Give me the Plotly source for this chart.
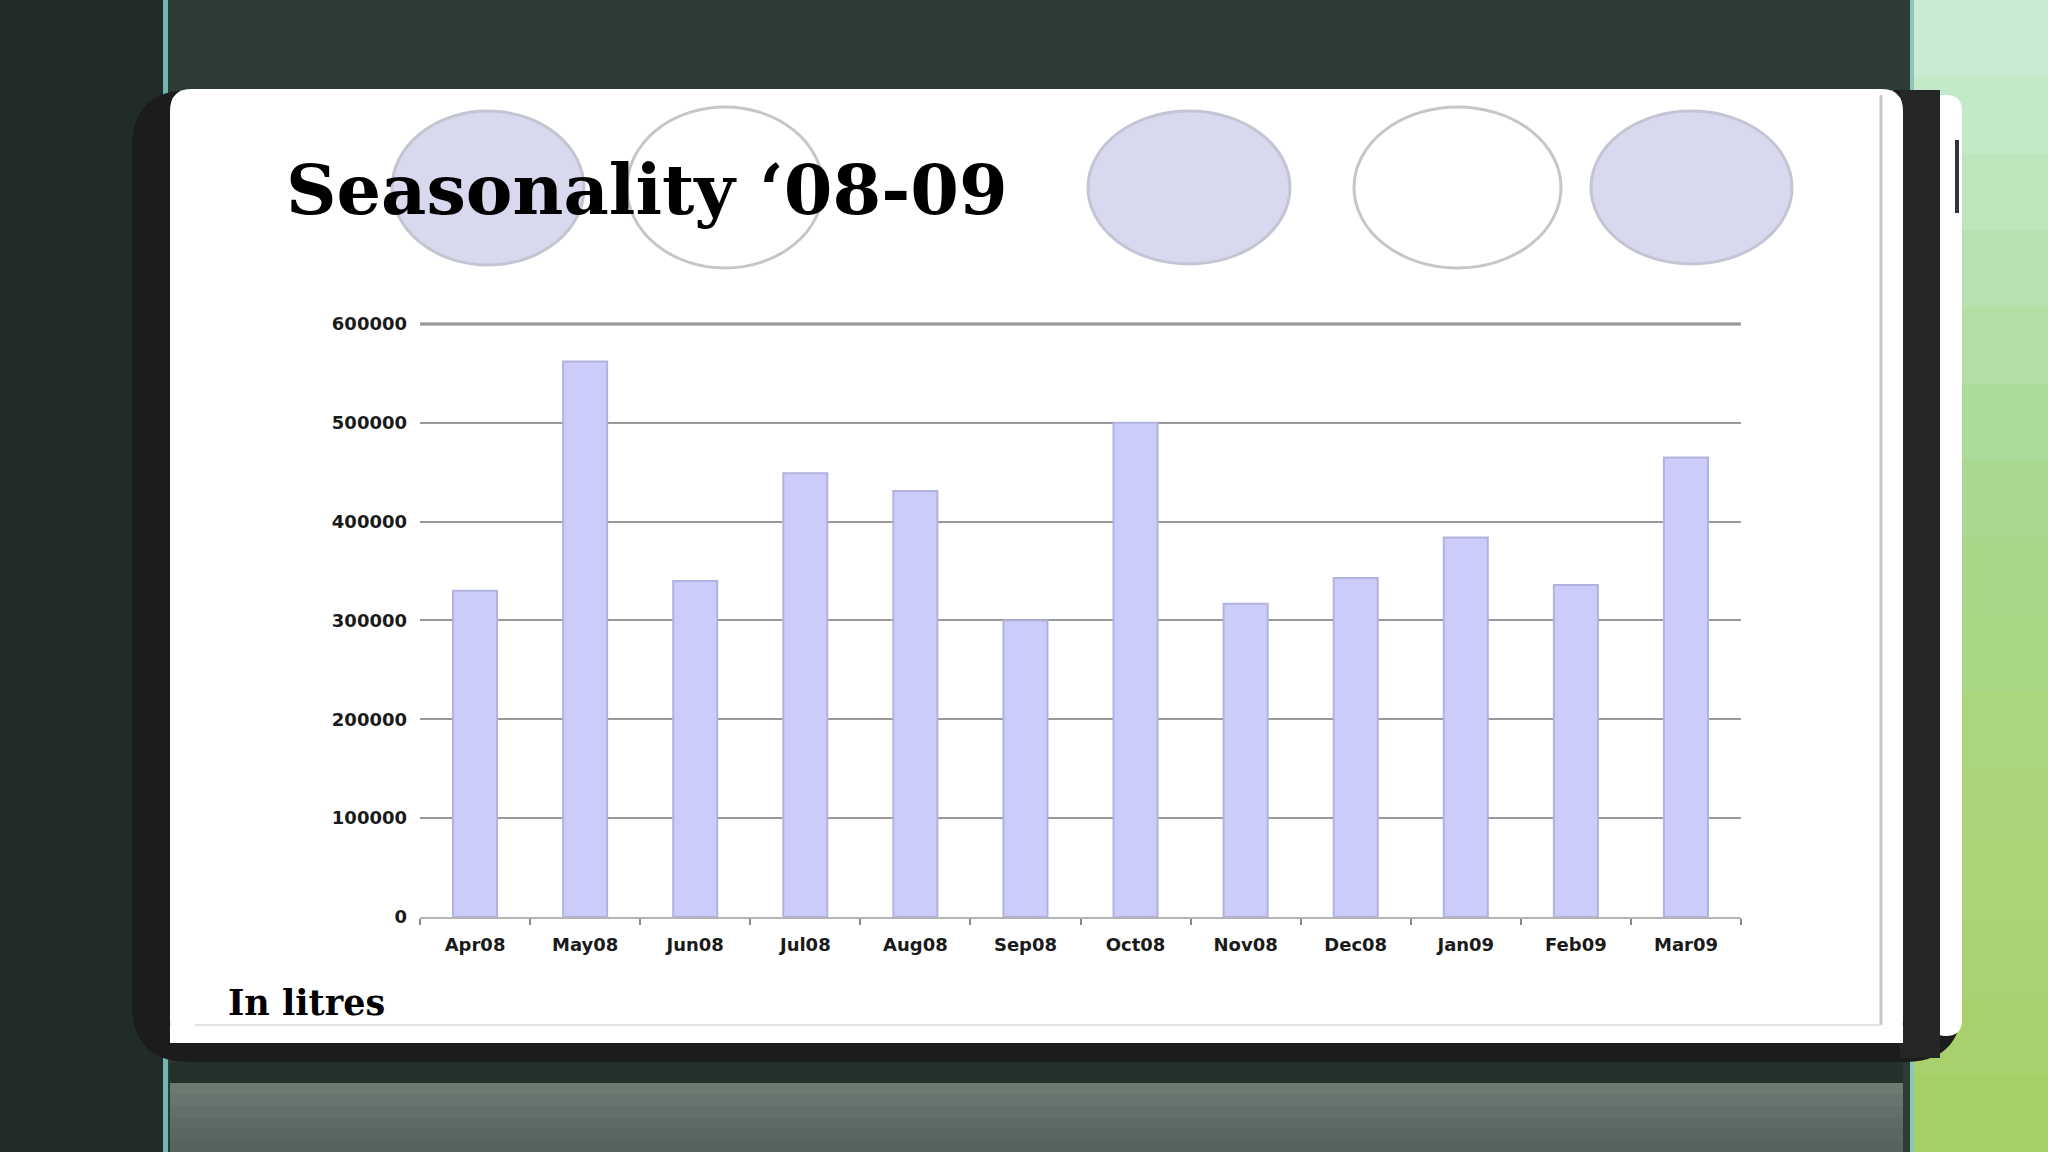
import plotly.graph_objects as go

# ---------------- data ----------------
months = ["Apr08", "May08", "Jun08", "Jul08", "Aug08", "Sep08",
          "Oct08", "Nov08", "Dec08", "Jan09", "Feb09", "Mar09"]
litres = [330000, 562000, 340000, 449000, 431000, 300000,
          500000, 317000, 343000, 384000, 336000, 465000]
y_ticks = [0, 100000, 200000, 300000, 400000, 500000, 600000]
y_tick_labels = ["0", "100000", "200000", "300000", "400000", "500000", "600000"]
title_text = "Seasonality \u201808-09"
unit_text = "In litres"

W, H = 2048, 1152


def px(x):
    return x / W


def py(y):
    return 1 - y / H


def pt(x, y):
    return f"{px(x):.5f},{py(y):.5f}"


def rrect(x0, y0, x1, y1, r):
    return ("M " + pt(x0 + r, y0) + " L " + pt(x1 - r, y0) +
            " Q " + pt(x1, y0) + " " + pt(x1, y0 + r) +
            " L " + pt(x1, y1 - r) +
            " Q " + pt(x1, y1) + " " + pt(x1 - r, y1) +
            " L " + pt(x0 + r, y1) +
            " Q " + pt(x0, y1) + " " + pt(x0, y1 - r) +
            " L " + pt(x0, y0 + r) +
            " Q " + pt(x0, y0) + " " + pt(x0 + r, y0) + " Z")


shapes = []


def rect(x0, y0, x1, y1, color, layer="below"):
    shapes.append(dict(type="rect", xref="paper", yref="paper",
                       x0=px(x0), x1=px(x1), y0=py(y1), y1=py(y0),
                       fillcolor=color, layer=layer, line=dict(width=0)))


# slide background
rect(0, 0, 163, H, "#212c27")
rect(163, 0, 168, H, "#72b6b2")
# right green panel (banded gradient)
green_bands = ["#c9ebd2", "#c4e9c8", "#bee6bd", "#b7e2b0", "#b1dfa4", "#acdc99",
               "#a9d990", "#a9d789", "#aad783", "#acd67e", "#acd57a", "#abd476",
               "#a9d272", "#a8d16e", "#a6cf6a"]
band_h = H / len(green_bands)
for i, c in enumerate(green_bands):
    rect(1912, i * band_h, W, (i + 1) * band_h + 1, c)
rect(1910, 0, 1914, H, "#8cc6b8")

# black card shadow + white card
shapes.append(dict(type="path", xref="paper", yref="paper",
                   path=rrect(132, 90, 1962, 1062, 58),
                   fillcolor="#1c1c1c", line=dict(width=0), layer="below"))
shapes.append(dict(type="path", xref="paper", yref="paper",
                   path=rrect(1930, 95, 1962, 1036, 16),
                   fillcolor="#ffffff", line=dict(width=0), layer="below"))
rect(1900, 90, 1940, 1058, "#262626")
shapes.append(dict(type="path", xref="paper", yref="paper",
                   path=rrect(170, 89, 1903, 1043, 22),
                   fillcolor="#ffffff", line=dict(width=0), layer="below"))
rect(170, 1025, 1903, 1043, "#ffffff")

# reflection below card
rect(170, 1062, 1903, 1083, "#24302b")
refl = ["#6c7a72", "#67756e", "#62706a", "#5d6b65", "#596761", "#56645d"]
rh = (H - 1083) / len(refl)
for i, c in enumerate(refl):
    rect(170, 1083 + i * rh, 1903, 1083 + (i + 1) * rh + 1, c)

# embedded image border lines
shapes.append(dict(type="line", xref="paper", yref="paper",
                   x0=px(1881), x1=px(1881), y0=py(95), y1=py(1025),
                   line=dict(color="#c8c8c8", width=3), layer="below"))
shapes.append(dict(type="line", xref="paper", yref="paper",
                   x0=px(195), x1=px(1881), y0=py(1025), y1=py(1025),
                   line=dict(color="#e2e2e2", width=2), layer="below"))
shapes.append(dict(type="line", xref="paper", yref="paper",
                   x0=px(1957), x1=px(1957), y0=py(140), y1=py(213),
                   line=dict(color="#333333", width=4), layer="below"))

# decorative ellipses
ellipses = [(392, 111, 584, 265, "#d8d8ee", "#c4c4d4"),
            (627, 107, 823, 268, "#ffffff", "#c6c6c6"),
            (1088, 111, 1290, 264, "#d8d8ee", "#c4c4d4"),
            (1354, 107, 1561, 268, "#ffffff", "#c6c6c6"),
            (1591, 111, 1792, 264, "#d8d8ee", "#c4c4d4")]
for x0, y0, x1, y1, fc, lc in ellipses:
    shapes.append(dict(type="circle", xref="paper", yref="paper",
                       x0=px(x0), x1=px(x1), y0=py(y1), y1=py(y0),
                       fillcolor=fc, line=dict(color=lc, width=3), layer="below"))

# top gridline (at the top of the value range)
shapes.append(dict(type="line", xref="x domain", yref="y",
                   x0=0, x1=1, y0=y_ticks[-1], y1=y_ticks[-1],
                   line=dict(color="#808080", width=3), layer="below"))

fig = go.Figure()
fig.add_trace(go.Bar(
    x=months, y=litres, width=0.40,
    marker=dict(color="#ccccfa", line=dict(color="#b2b2de", width=2)),
    showlegend=False,
))

tick_font = dict(family="DejaVu Sans", size=18, color="#1a1a1a", weight="bold")

fig.update_layout(
    width=W, height=H,
    margin=dict(l=0, r=0, t=0, b=0, pad=0, autoexpand=False),
    paper_bgcolor="#2c3b34",
    plot_bgcolor="rgba(0,0,0,0)",
    shapes=shapes,
    bargap=0.6,
    xaxis=dict(
        domain=[px(420), px(1741)],
        type="category",
        tickson="boundaries",
        ticks="outside", ticklen=6, tickcolor="#888888", tickwidth=2,
        showline=True, linecolor="#b4b4b4", linewidth=2,
        showgrid=False, automargin=False,
        tickfont=tick_font,
        ticklabelstandoff=10,
    ),
    yaxis=dict(
        domain=[py(917), py(319)],
        range=[0, 605000],
        tickmode="array", tickvals=y_ticks, ticktext=y_tick_labels,
        showgrid=True, gridcolor="#999999", gridwidth=2,
        zeroline=False, showline=False, automargin=False,
        ticks="",
        tickfont=tick_font,
        ticklabelstandoff=12,
    ),
    annotations=[
        dict(text="<b>" + title_text + "</b>", xref="paper", yref="paper",
             x=px(284), y=py(189), xanchor="left", yanchor="middle",
             showarrow=False,
             font=dict(family="DejaVu Serif", size=70, color="#000000")),
        dict(text="<b>" + unit_text + "</b>", xref="paper", yref="paper",
             x=px(226), y=py(1002), xanchor="left", yanchor="middle",
             showarrow=False,
             font=dict(family="DejaVu Serif", size=35, color="#000000")),
    ],
)

fig.write_html(
    "out.html",
    config={"displayModeBar": False},
    post_script="document.body.style.margin='0';document.body.style.overflow='hidden';",
)
